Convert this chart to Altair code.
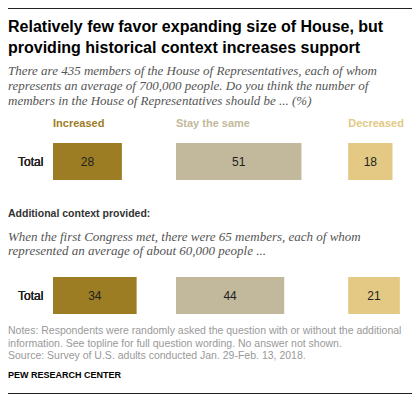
import altair as alt
import pandas as pd

# Survey answers (%)
answers = ["Increased", "Stay the same", "Decreased"]
no_context = [28, 51, 18]
with_context = [34, 44, 21]
groups = ["Total (no context)", "Total (context)"]

colors = ["#9c7d24", "#c2b99c", "#e3c983"]

# column starts, in percentage units (layout only)
col_start = {"Increased": 0, "Stay the same": 50, "Decreased": 120}

rows = []
for g, vals in zip(groups, [no_context, with_context]):
    for a, v in zip(answers, vals):
        rows.append({"group": g, "answer": a, "value": v,
                     "start": col_start[a], "end": col_start[a] + v,
                     "mid": col_start[a] + v / 2})
df = pd.DataFrame(rows)
heads = pd.DataFrame({"answer": answers, "start": [col_start[a] for a in answers]})

W, H = 404, 386
px = 2.46
x0 = 45
xscale = alt.Scale(domain=[0, (W - x0) / px], range=[x0, W], nice=False, zero=False)
# band centres at ~153.5 and ~287.5, 37 px tall
yscale = alt.Scale(type="band", domain=groups, range=[135, 306],
                   paddingInner=97 / 134, paddingOuter=0)
cscale = alt.Scale(domain=answers, range=colors)

base = alt.Chart(df)

bars = base.mark_bar().encode(
    x=alt.X("start:Q", scale=xscale, axis=None),
    x2="end:Q",
    y=alt.Y("group:N", scale=yscale, axis=None),
    color=alt.Color("answer:N", scale=cscale, legend=None),
)

values = base.mark_text(font="Arial", fontSize=12, color="#222", baseline="middle").encode(
    x=alt.X("mid:Q", scale=xscale, axis=None),
    y=alt.Y("group:N", scale=yscale, axis=None, bandPosition=0.5),
    text="value:Q",
)

row_labels = base.mark_text(font="Arial", fontSize=12, color="#222", align="left",
                            baseline="middle").encode(
    x=alt.value(10),
    y=alt.Y("group:N", scale=yscale, axis=None, bandPosition=0.5),
    text=alt.value("Total"),
)

headers = alt.Chart(heads).mark_text(font="Arial", fontSize=11, fontWeight="bold",
                                     align="left", baseline="alphabetic").encode(
    x=alt.X("start:Q", scale=xscale, axis=None),
    y=alt.value(119),
    text="answer:N",
    color=alt.Color("answer:N", scale=cscale, legend=None),
)


def txt(lines, y, size, color, font="Arial", weight="normal", style="normal", lh=None):
    lh = lh or size + 3
    return alt.Chart(pd.DataFrame({"t": ["\n".join(lines)]})).mark_text(
        font=font, fontSize=size, fontWeight=weight, fontStyle=style, color=color,
        align="left", baseline="alphabetic", lineBreak="\n", lineHeight=lh,
    ).encode(
        x=alt.value(0),
        y=alt.value(y),
        text="t:N",
    )


title = txt(["Relatively few favor expanding  size of House, but",
             "providing historical context increases support"],
            24, 16, "#000", weight="bold", lh=21)
sub = txt(["There are 435 members of the House of Representatives, each of whom",
           "represents an average of 700,000 people. Do you think the number of",
           "members in the House of Representatives should be ... (%)"],
          66.5, 13, "#555", font="Liberation Serif", style="italic", lh=15)
ctx_head = txt(["Additional context provided:"], 208.5, 10.5, "#333", weight="bold")
ctx = txt(["When the first Congress met, there were 65 members, each of whom",
           "represented an average of about 60,000 people ..."],
          232.5, 13, "#555", font="Liberation Serif", style="italic", lh=14.5)
notes = txt(["Notes: Respondents were randomly asked the question with or without the additional",
             "information. See topline for full question wording. No answer not shown.",
             "Source: Survey of U.S. adults conducted Jan. 29-Feb. 13, 2018."],
            326, 10.5, "#999", lh=12.6)
pew = txt(["PEW RESEARCH CENTER"], 369.5, 9, "#000", weight="bold")

top_line = alt.Chart(pd.DataFrame({"a": [0]})).mark_rule(color="#222", strokeWidth=1).encode(
    x=alt.value(0), x2=alt.value(W), y=alt.value(0.5))
bottom_line = alt.Chart(pd.DataFrame({"a": [0]})).mark_rule(color="#222", strokeWidth=1).encode(
    x=alt.value(0), x2=alt.value(W), y=alt.value(385.5))

chart = alt.layer(top_line, bottom_line, title, sub, headers, bars, values, row_labels,
                  ctx_head, ctx, notes, pew).properties(
    width=W, height=H, padding=0, autosize=alt.AutoSizeParams(type="none")
).configure_view(stroke=None)

chart.save("out.html", embed_options={"renderer": "svg", "actions": False})
